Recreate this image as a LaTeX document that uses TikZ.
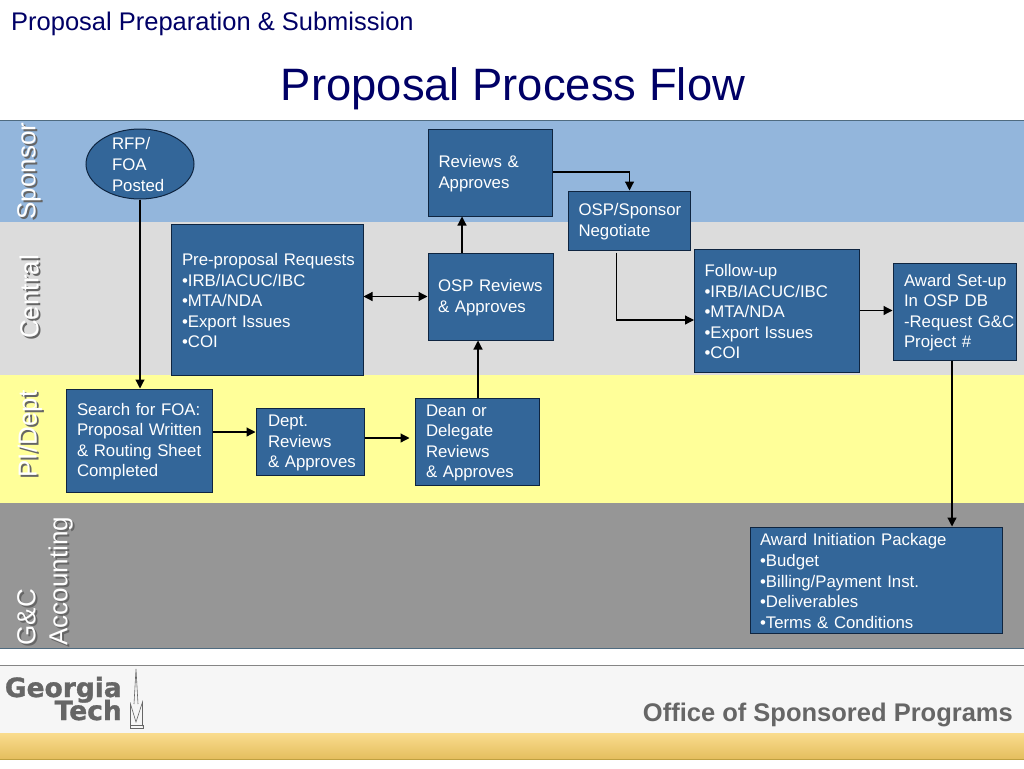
\documentclass[tikz,border=0pt]{standalone}
\usepackage{fontspec}
\setmainfont{Liberation Sans}
\newfontfamily\logofont[FakeBold=1.2]{DejaVu Sans Bold}
\usetikzlibrary{arrows.meta,shapes.geometric}
\definecolor{titleblue}{HTML}{000066}
\definecolor{boxblue}{HTML}{336699}
\definecolor{boxline}{HTML}{0F2540}
\definecolor{laneblue}{HTML}{93B6DC}
\definecolor{lanegrey}{HTML}{DCDCDC}
\definecolor{laneyellow}{HTML}{FFFF99}
\definecolor{lanedark}{HTML}{969696}
\definecolor{lanerule}{HTML}{4F6B80}
\definecolor{footgrey}{HTML}{666666}
\definecolor{footlight}{HTML}{F6F6F6}
\definecolor{goldtop}{HTML}{FADC8E}
\definecolor{goldlow}{HTML}{E4BE5E}
\definecolor{goldrule}{HTML}{BFA040}
\newcommand{\lanetext}[1]{\makebox[0pt][l]{\kern-2pt\raisebox{-2pt}{\textcolor{footgrey}{#1}}}#1}
\tikzset{
  boxtext/.style={text=white,font=\fontsize{16.8}{20.6}\selectfont},
  stepbox/.style 2 args={draw=boxline,fill=boxblue,line width=1pt,boxtext,align=left,
    inner xsep=0pt,inner ysep=0pt,text width=#1pt,minimum width=#1pt,minimum height=#2pt,
    execute at begin node={\leftskip=10pt\relax\rule{0pt}{14.5pt}}},
  indent/.style={execute at begin node={\leftskip=#1pt\relax}},
  lanelabel/.style={rotate=90,text=white,align=left,font=\fontsize{26}{32}\selectfont},
  flow/.style={line width=1.2pt,-{Triangle[length=9pt,width=9pt]}},
  flowboth/.style={line width=1.2pt,{Triangle[length=9pt,width=9pt]}-{Triangle[length=9pt,width=9pt]}}
}
\begin{document}
\begin{tikzpicture}[x=1pt,y=-1pt]
\useasboundingbox (0,0) rectangle (1024,768);
% lanes
\fill[laneblue] (0,120) rectangle (1024,222);
\fill[lanegrey] (0,222) rectangle (1024,375);
\fill[laneyellow] (0,375) rectangle (1024,503);
\fill[lanedark] (0,503) rectangle (1024,648);
\draw[lanerule] (0,120) -- (1024,120);
\draw[lanerule] (0,648.5) -- (1024,648.5);

% footer
\fill[footlight] (0,666) rectangle (1024,733);
\draw[footgrey!80,line width=0.8pt] (0,665.5) -- (1024,665.5);
\shade[top color=goldtop,bottom color=goldlow] (0,733) rectangle (1024,759);
\draw[goldrule] (0,759) -- (1024,759);

% titles
\path(11,24) node[anchor=west,inner sep=0pt,text=titleblue,font=\fontsize{25.5}{28}\selectfont] (section){Proposal Preparation \& Submission};
\path(513,89) node[text=titleblue,inner sep=0pt,font=\fontsize{45.4}{50}\selectfont] (title){Proposal Process Flow};

% lane names
\path(30,171) node[lanelabel] (sponsor){\lanetext{Sponsor}};
\path(30,297) node[lanelabel] (central){\lanetext{Central}};
\path(31,434) node[lanelabel] (pidept){\lanetext{PI/Dept}};
\path(46,649) node[lanelabel,anchor=west] (accounting){\lanetext{G\&C}\\\lanetext{Accounting}};

% sponsor
\path(140,164) node[ellipse,draw=boxline,fill=boxblue,line width=1pt,minimum width=108pt,minimum height=70pt,inner sep=0pt,
  label={[boxtext,align=left,text width=56pt,inner sep=0pt,yshift=-0.5pt]center:RFP/\\FOA\\Posted}] (rfp){};
\path(490.5,172.5) node[stepbox={124}{87}] (reviews){Reviews \&\\Approves};
\path(629.5,220.5) node[stepbox={122}{59}] (negotiate){OSP/Sponsor\\Negotiate};

% central
\path(267,299.5) node[stepbox={192}{151},indent=11] (prereq){Pre-proposal Requests\\•IRB/IACUC/IBC\\•MTA/NDA\\•Export Issues\\•COI};
\path(490.5,296.5) node[stepbox={125}{87}] (ospreview){OSP Reviews\\\& Approves};
\path(777,310.5) node[stepbox={165}{123}] (followup){Follow-up\\•IRB/IACUC/IBC\\•MTA/NDA\\•Export Issues\\•COI};
\path(954.5,311.5) node[stepbox={123}{97},indent=11] (award){Award Set-up\\In OSP DB\\-Request G\&C\\Project \#};

% pi / dept
\path(139,440.5) node[stepbox={146}{103},indent=11] (search){Search for FOA:\\Proposal Written\\\& Routing Sheet\\Completed};
\path(310,441.5) node[stepbox={108}{67},indent=12] (dept){Dept.\\Reviews\\\& Approves};
\path(477,441.5) node[stepbox={124}{87},indent=11] (dean){Dean or\\Delegate\\Reviews\\\& Approves};

% accounting
\path(876,580) node[stepbox={252}{106}] (package){Award Initiation Package\\•Budget\\•Billing/Payment Inst.\\•Deliverables\\•Terms \& Conditions};

% connectors
\draw[flow] (rfp.south) -- (rfp.south |- search.north);
\draw[flow] (reviews.east |- 0,172) -| (negotiate.north);
\draw[flow] ([xshift=-28.5pt]ospreview.north) -- ([xshift=-28.5pt]reviews.south);
\draw[flowboth] (prereq.east |- ospreview.west) -- (ospreview.west);
\draw[flow] ([xshift=-13pt,yshift=-2pt]negotiate.south) |- ([yshift=-9.5pt]followup.west);
\draw[flow] (followup.east) -- (followup.east -| award.west);
\draw[flow] ([xshift=-2.5pt]award.south) -- ([xshift=76pt]package.north);
\draw[flow] ([yshift=8.5pt]search.east) -- ([yshift=9.5pt]dept.west);
\draw[flow] ([yshift=3.5pt]dept.east) -- ([xshift=-5pt,yshift=3.5pt]dean.west);
\draw[flow] ([xshift=1pt]dean.north) -- ([xshift=-12.5pt]ospreview.south);

% logo
\path(122,697) node[anchor=base east,inner sep=0pt,text=footgrey,font=\logofont\fontsize{26.5}{26}\selectfont] (georgia){Georgia};
\path(122,720) node[anchor=base east,inner sep=0pt,text=footgrey,font=\logofont\fontsize{26.5}{26}\selectfont] (tech){Tech};
\draw[footgrey,line width=0.6pt] (134,704) -- (136,669) -- (138,704);
\draw[footgrey,line width=0.6pt] (130.5,726) -- (130.5,704) -- (136,722) -- (142.5,702) -- (142.5,726);
\draw[footgrey,line width=0.6pt] (130,725.5) rectangle (143,728);
\path(1013,715) node[anchor=east,inner sep=0pt,text=footgrey,font=\bfseries\fontsize{25.5}{28}\selectfont] (office){Office of Sponsored Programs};
\end{tikzpicture}
\end{document}
